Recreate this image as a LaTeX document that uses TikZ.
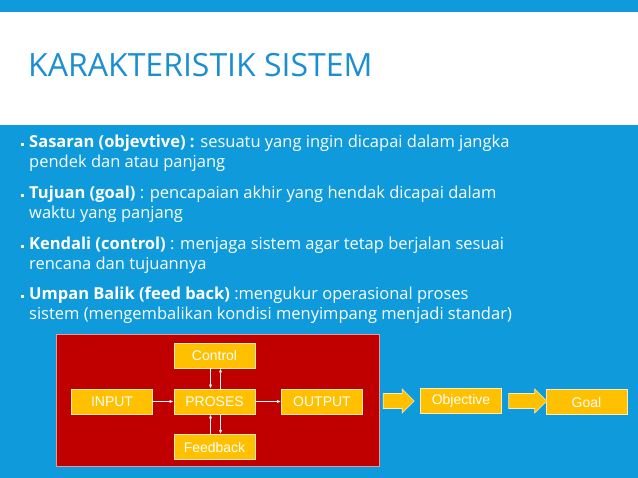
\documentclass[tikz,border=0pt]{standalone}
\usepackage{fontspec}
\setmainfont{Open Sans}
\newfontfamily\arialf{Liberation Sans}
\usetikzlibrary{shapes.arrows,arrows.meta}
\definecolor{bg}{HTML}{0E9ADB}
\definecolor{ttl}{HTML}{1B8FD2}
\definecolor{redb}{HTML}{C00000}
\definecolor{orb}{HTML}{FFC000}
\begin{document}
\begin{tikzpicture}[x=1pt,y=-1pt,
  ob/.style={fill=orb,draw=white!70!orb,line width=0.6pt,minimum width=81pt,minimum height=25pt,inner sep=0pt,text=white,font=\arialf\fontsize{14}{14}\selectfont},
  bl/.style={anchor=base west,text=white,inner sep=0pt,font=\fontsize{16.5}{16.5}\selectfont},
  ln/.style={white,line width=0.8pt,-{Latex[length=4pt,width=3pt]}},
  barr/.style={single arrow,fill=orb,draw=white!70!orb,line width=0.6pt,minimum height=31pt,minimum width=24pt,single arrow head extend=2pt,inner sep=3pt,shape border rotate=0}]
\fill[bg] (0,0) rectangle (638,478);
\fill[white] (0,12) rectangle (638,125);
\node[anchor=base west,text=ttl,inner sep=0pt,font=\fontsize{32}{32}\selectfont] (title) at (28,77) {KARAKTERISTIK SISTEM};
\foreach \y in {143,194,245,295} \fill[white] (21,\y) rectangle (24,\y+3);
\node[bl] (b1a) at (29,148) {\textbf{Sasaran (objevtive) :} sesuatu yang ingin dicapai dalam jangka};
\node[bl] (b1b) at (29,168) {pendek dan atau panjang};
\node[bl] (b2a) at (29,199) {\textbf{Tujuan (goal)} : pencapaian akhir yang hendak dicapai dalam};
\node[bl] (b2b) at (29,219) {waktu yang panjang};
\node[bl] (b3a) at (29,250) {\textbf{Kendali (control)} : menjaga sistem agar tetap berjalan sesuai};
\node[bl] (b3b) at (29,270) {rencana dan tujuannya};
\node[bl] (b4a) at (29,300) {\textbf{Umpan Balik (feed back)} :mengukur operasional proses};
\node[bl] (b4b) at (29,320) {sistem (mengembalikan kondisi menyimpang menjadi standar)};
\draw[fill=redb,draw=white!60!redb,line width=0.6pt] (56,334) rectangle (379,466);
\node[ob] (ctl) at (214.5,355.5) {Control};
\node[ob] (in) at (112,401.5) {INPUT};
\node[ob] (pr) at (214.5,401.5) {PROSES};
\node[ob] (out) at (322,401.5) {OUTPUT};
\node[ob] (fb) at (214.5,447) {Feedback};
\node[ob] (obj) at (461,400.5) {Objective};
\node[ob] (goal) at (586.5,402) {Goal};
\draw[ln] (in) -- (pr);
\draw[ln] (pr) -- (out);
\draw[ln] ([xshift=-4pt]ctl.south) -- ([xshift=-4pt]pr.north);
\draw[ln] ([xshift=6pt]pr.north) -- ([xshift=6pt]ctl.south);
\draw[ln] ([xshift=-4pt]fb.north) -- ([xshift=-4pt]pr.south);
\draw[ln] ([xshift=6pt]pr.south) -- ([xshift=6pt]fb.north);
\node[barr] (a1) at (395,401) {};
\node[barr,minimum height=38pt] (a2) at (524,401) {};
\end{tikzpicture}
\end{document}
